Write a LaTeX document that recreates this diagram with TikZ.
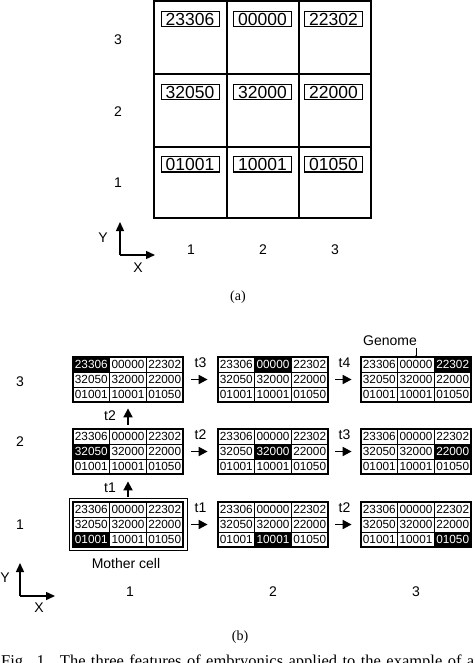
\documentclass[tikz,border=0pt]{standalone}
\usepackage{fontspec}
\setmainfont{Liberation Serif}
\setsansfont{Liberation Sans}
\newfontfamily\hv{Liberation Sans}
\usetikzlibrary{arrows.meta}
\tikzset{
  bigbox/.style={draw,line width=1pt,minimum width=58pt,minimum height=15pt,inner sep=0pt,font=\hv\fontsize{17.5}{17.5}\selectfont},
  lbl/.style={font=\hv\fontsize{14}{14}\selectfont,inner sep=0pt},
  serlbl/.style={font=\fontsize{14}{14}\selectfont,inner sep=0pt},
  mcell/.style={draw,line width=0.8pt,minimum width=36.67pt,minimum height=15pt,inner sep=0pt,font=\hv\fontsize{11.8}{11.8}\selectfont},
  blk/.style={fill=black,text=white},
  arr/.style={line width=1.8pt,-{Triangle[length=9pt,width=9pt]}},
  axis/.style={line width=1.4pt,-{Triangle[length=9pt,width=8pt]}},
}
\newcommand\mgrid[5]{%
  \foreach \r/\va/\vb/\vc in {1/23306/00000/22302,2/32050/32000/22000,3/01001/10001/01050}{%
    \foreach \c/\v in {1/\va,2/\vb,3/\vc}{%
      \pgfmathtruncatemacro\isblk{and(\r==#4,\c==#5)}%
      \ifnum\isblk=1
        \node[mcell,blk] (#1-\r\c) at ({#2+(\c-0.5)*36.67},{#3+(\r-0.5)*15}) {\v};
      \else
        \node[mcell] (#1-\r\c) at ({#2+(\c-0.5)*36.67},{#3+(\r-0.5)*15}) {\v};
      \fi
    }%
  }%
  \draw[line width=1.2pt] (#2,#3) rectangle ++(110,45);
}
\begin{document}
\begin{tikzpicture}[x=1pt,y=-1pt]
\useasboundingbox (0,0) rectangle (474,663);
\clip (0,0) rectangle (474,663);
% ---------- (a)
\draw[line width=2pt] (154,1) rectangle (371,218);
\draw[line width=2pt] (227,1) -- (227,218) (299,1) -- (299,218)
  (154,74) -- (371,74) (154,147) -- (371,147);
\foreach \vv/\xx/\yy [count=\i] in {23306/190/19.5,00000/262.5/19.5,22302/333.5/19.5,
  32050/190/92.5,32000/262.5/92.5,22000/333.5/92.5,
  01001/190/164.5,10001/262.5/164.5,01050/333.5/164.5}
  \node[bigbox] (a\i) at (\xx,\yy) {\vv};
\node[lbl] (ar3) at (118,40) {3};
\node[lbl] (ar2) at (118,112) {2};
\node[lbl] (ar1) at (118,183) {1};
\node[lbl] (ac1) at (191,250) {1};
\node[lbl] (ac2) at (263,250) {2};
\node[lbl] (ac3) at (335,250) {3};
\coordinate (ao) at (120,255);
\draw[axis] (ao) -- (120,222);
\draw[axis] (ao) -- (155,255);
\node[lbl] (aY) at (103,238) {Y};
\node[lbl] (aX) at (138,268) {X};
\node[serlbl] (alab) at (238,297) {(a)};
% ---------- (b)
\mgrid{A}{73}{357}{1}{1}
\mgrid{B}{218}{357}{1}{2}
\mgrid{C}{361}{357}{1}{3}
\mgrid{D}{73}{429}{2}{1}
\mgrid{E}{218}{429}{2}{2}
\mgrid{F}{361}{429}{2}{3}
\mgrid{G}{73}{502}{3}{1}
\mgrid{H}{218}{502}{3}{2}
\mgrid{I}{361}{502}{3}{3}
\draw[line width=1pt] (69,498) rectangle (187,550);
% horizontal arrows
\draw[arr,shorten <=8pt,shorten >=10pt] (A-23.east) -- node[lbl,yshift=17pt] {t3} (B-21.west);
\draw[arr,shorten <=7pt,shorten >=9pt] (B-23.east) -- node[lbl,yshift=17pt] {t4} (C-21.west);
\draw[arr,shorten <=8pt,shorten >=10pt] (D-23.east) -- node[lbl,yshift=17pt] {t2} (E-21.west);
\draw[arr,shorten <=7pt,shorten >=9pt] (E-23.east) -- node[lbl,yshift=17pt] {t3} (F-21.west);
\draw[arr,shorten <=8pt,shorten >=10pt] (G-23.east) -- node[lbl,yshift=17pt] {t1} (H-21.west);
\draw[arr,shorten <=7pt,shorten >=9pt] (H-23.east) -- node[lbl,yshift=17pt] {t2} (I-21.west);
% vertical arrows
\draw[arr,shorten <=4pt,shorten >=6pt] (D-12.north) -- node[lbl,xshift=-18pt] {t2} (A-32.south);
\draw[arr,shorten <=5pt,shorten >=7pt] (G-12.north) -- node[lbl,xshift=-18pt] {t1} (D-32.south);
% genome
\node[lbl] (genome) at (390,341) {Genome};
\fill (C-12.north) circle (1.6);
\draw[line width=1pt] (C-12.north) -- ++(0,-9);
% labels
\node[lbl] (br3) at (20,382) {3};
\node[lbl] (br2) at (20,442) {2};
\node[lbl] (br1) at (20,525) {1};
\node[lbl] (mother) at (126,563) {Mother cell};
\node[lbl] (bc1) at (130,592) {1};
\node[lbl] (bc2) at (273,592) {2};
\node[lbl] (bc3) at (416,592) {3};
\coordinate (bo) at (20,596);
\draw[axis] (bo) -- (20,563);
\draw[axis] (bo) -- (55,596);
\node[lbl] (bY) at (5,578) {Y};
\node[lbl] (bX) at (39,608) {X};
\node[serlbl] (blab) at (240,637) {(b)};
\node[anchor=base west,inner sep=0pt,font=\fontsize{16.5}{16.5}\selectfont] (cap) at (1,666)
  {\makebox[473pt][s]{Fig. 1.\ \ The three features of embryonics applied to the example of a}};
\end{tikzpicture}
\end{document}
